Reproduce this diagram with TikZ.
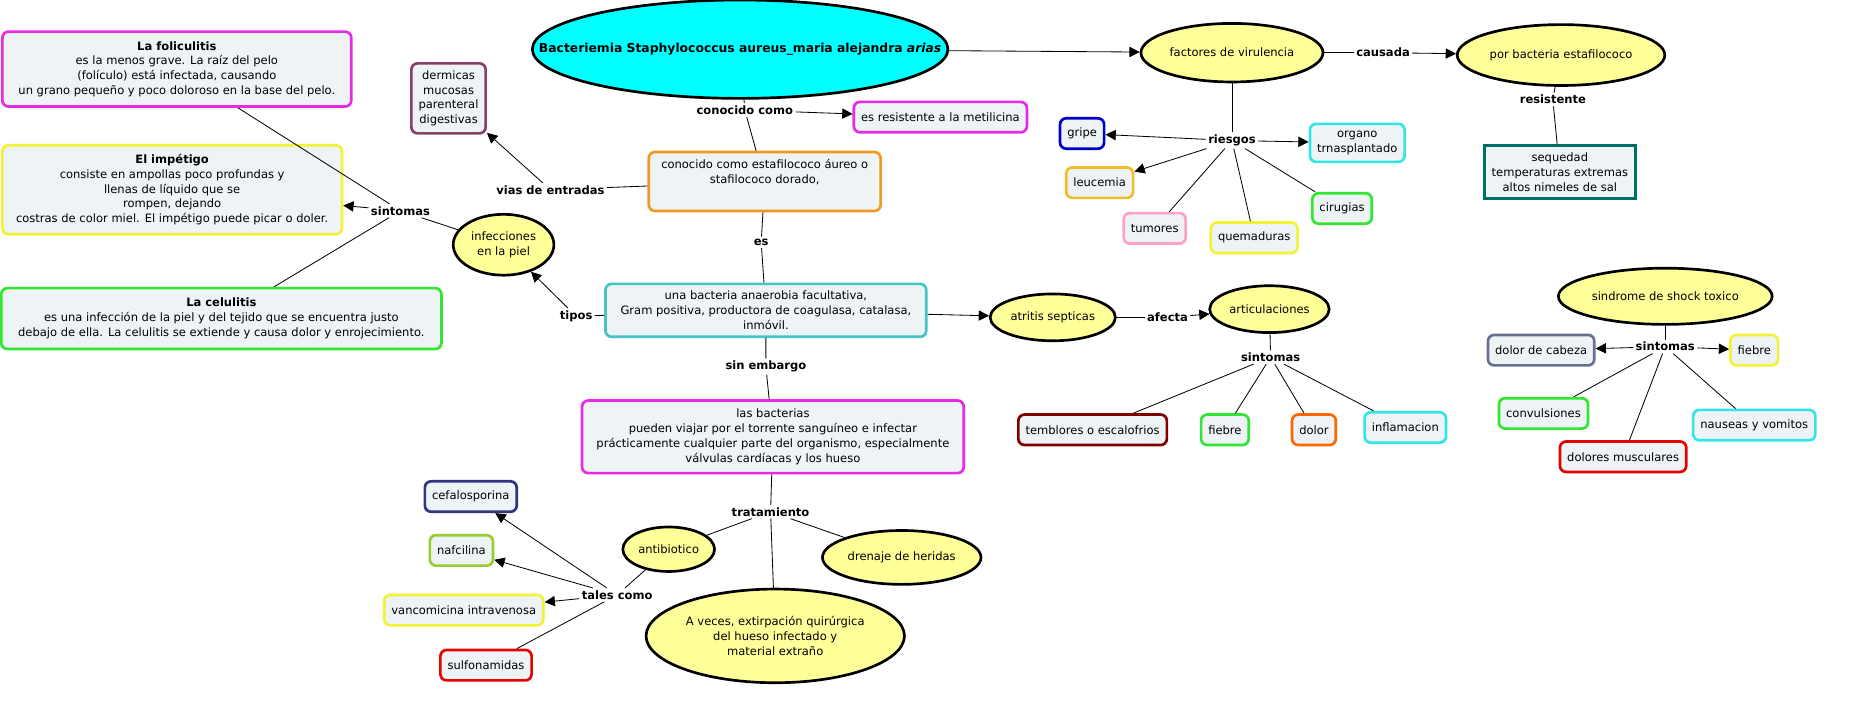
\documentclass[tikz,border=0pt]{standalone}
\usepackage{fontspec}
\setmainfont{DejaVu Sans}
\usetikzlibrary{shapes.geometric,arrows.meta}
\definecolor{amar}{HTML}{FFFF99}
\definecolor{fondo}{HTML}{EEF3F5}
\definecolor{celeste}{HTML}{00FFFF}
\definecolor{mag}{HTML}{E62AE6}
\definecolor{ama}{HTML}{F2F236}
\definecolor{ver}{HTML}{33E633}
\definecolor{cia}{HTML}{33E6E6}
\definecolor{nar}{HTML}{EE9922}
\newcommand\letra{\fontsize{5.6}{7.2}\selectfont}
\tikzstyle{elip}=[ellipse,draw,line width=1.3pt,fill=amar,align=center,inner sep=1pt]
\tikzstyle{caja}=[draw,rounded corners=3pt,line width=1.3pt,fill=fondo,align=center,inner sep=3.5pt,minimum height=0.52cm]
\tikzstyle{lbl}=[font=\letra\bfseries,fill=white,inner sep=1pt]
\tikzstyle{fl}=[-{Triangle[length=5pt,width=5pt]}]

\begin{document}
\begin{tikzpicture}[x=0.02cm,y=-0.02cm,font=\letra,line width=0.4pt]
\useasboundingbox (0,0) rectangle (1590,602);

% conceptos principales
\node[elip,fill=celeste,inner xsep=-1.6cm,minimum width=7.1cm,minimum height=1.68cm,font=\fontsize{6}{7.5}\selectfont\bfseries] (main) at (632,42) {Bacteriemia Staphylococcus aureus\_maria alejandra \textit{arias}};
\node[elip,minimum width=2.56cm,minimum height=1cm] (fact) at (1052,45) {factores de virulencia};
\node[elip,minimum width=2.84cm,minimum height=1.04cm] (porb) at (1333,47) {por bacteria estafilococo};
\node[caja,draw={rgb,255:red,0;green,112;blue,100},rounded corners=0pt] (seq) at (1332,147) {sequedad\\temperaturas extremas\\altos nimeles de sal};
\node[lbl] (causada) at (1181,45) {causada};
\node[lbl] (resist) at (1326,85) {resistente};

% riesgos
\node[lbl] (riesgos) at (1052,120) {riesgos};
\node[caja,draw={rgb,255:red,0;green,0;blue,204}] (gripe) at (924,114) {gripe};
\node[caja,draw=cia] (organo) at (1159,122) {organo\\trnasplantado};
\node[caja,draw={rgb,255:red,240;green,190;blue,40}] (leuc) at (939,156) {leucemia};
\node[caja,draw={rgb,255:red,255;green,160;blue,200}] (tumor) at (986,195) {tumores};
\node[caja,draw=ama] (quem) at (1071,203) {quemaduras};
\node[caja,draw=ver] (ciru) at (1146,178) {cirugias};

% rama central
\node[lbl] (conoc) at (636,94) {conocido como};
\node[caja,draw=mag] (metil) at (803,100) {es resistente a la metilicina};
\node[caja,draw=nar,minimum width=3.96cm,minimum height=1cm,text depth=0.35cm] (estaf) at (653,155) {conocido como estafilococo áureo o\\stafilococo dorado,};
\node[caja,draw={rgb,255:red,136;green,64;blue,102}] (derm) at (383,84) {dermicas\\mucosas\\parenteral\\digestivas};
\node[lbl] (vias) at (470,162) {vias de entradas};
\node[lbl] (es) at (650,207) {es};
\node[caja,draw={rgb,255:red,68;green,196;blue,196},minimum width=5.48cm] (bact) at (654,265) {una bacteria anaerobia facultativa,\\Gram positiva, productora de coagulasa, catalasa,\\inmóvil.};
\node[lbl] (tipos) at (492,270) {tipos};

% infecciones de la piel
\node[elip,minimum width=1.72cm,minimum height=1.04cm] (infec) at (430,209) {infecciones\\en la piel};
\node[lbl] (sint1) at (342,180) {sintomas};
\node[caja,draw=mag,minimum width=5.96cm,minimum height=1.28cm] (folic) at (151,59) {\textbf{La foliculitis}\\es la menos grave. La raíz del pelo\\(folículo) está infectada, causando\\un grano pequeño y poco doloroso en la base del pelo.};
\node[caja,draw=ama,minimum width=5.8cm,minimum height=1.52cm] (impet) at (147,162) {\textbf{El impétigo}\\consiste en ampollas poco profundas y\\llenas de líquido que se\\rompen, dejando\\costras de color miel. El impétigo puede picar o doler.};
\node[caja,draw=ver,minimum width=7.52cm,minimum height=1.04cm] (celul) at (189,272) {\textbf{La celulitis}\\es una infección de la piel y del tejido que se encuentra justo\\debajo de ella. La celulitis se extiende y causa dolor y enrojecimiento.};

% atritis septicas
\node[elip,minimum width=1.84cm,minimum height=0.8cm] (atri) at (899,271) {atritis septicas};
\node[lbl] (afecta) at (997,271) {afecta};
\node[elip,minimum width=1.8cm,minimum height=0.8cm] (artic) at (1084,264) {articulaciones};
\node[lbl] (sint2) at (1085,305) {sintomas};
\node[caja,draw={rgb,255:red,128;green,0;blue,0}] (temb) at (933,367) {temblores o escalofrios};
\node[caja,draw=ver] (fieb1) at (1046,367) {fiebre};
\node[caja,draw={rgb,255:red,255;green,102;blue,0}] (dolor) at (1122,367) {dolor};
\node[caja,draw=cia] (infla) at (1200,365) {inflamacion};

% tratamiento
\node[lbl] (sinemb) at (654,313) {sin embargo};
\node[caja,draw=mag,minimum width=6.52cm,minimum height=1.24cm] (lasb) at (660,373) {las bacterias\\pueden viajar por el torrente sanguíneo e infectar\\prácticamente cualquier parte del organismo, especialmente\\válvulas cardíacas y los hueso};
\node[lbl] (trat) at (658,437) {tratamiento};
\node[elip,minimum width=1.44cm,minimum height=0.76cm] (antib) at (571,469) {antibiotico};
\node[elip,minimum width=2.24cm,minimum height=0.92cm] (dren) at (770,476) {drenaje de heridas};
\node[elip,minimum width=3.68cm,minimum height=1.6cm] (aveces) at (662,543) {A veces, extirpación quirúrgica\\del hueso infectado y\\material extraño};
\node[lbl] (tales) at (527,508) {tales como};
\node[caja,draw={rgb,255:red,51;green,51;blue,128}] (cefa) at (402,424) {cefalosporina};
\node[caja,draw={rgb,255:red,153;green,204;blue,51}] (nafc) at (394,470) {nafcilina};
\node[caja,draw=ama] (vanc) at (396,521) {vancomicina intravenosa};
\node[caja,draw={rgb,255:red,230;green,0;blue,0}] (sulf) at (415,568) {sulfonamidas};

% sindrome de shock
\node[elip,minimum width=2.92cm,minimum height=0.96cm] (shock) at (1422,253) {sindrome de shock toxico};
\node[lbl] (sint3) at (1422,296) {sintomas};
\node[caja,draw={rgb,255:red,102;green,112;blue,144}] (cabeza) at (1316,299) {dolor de cabeza};
\node[caja,draw=ama] (fieb2) at (1498,299) {fiebre};
\node[caja,draw=ver] (conv) at (1318,353) {convulsiones};
\node[caja,draw=cia] (naus) at (1498,363) {nauseas y vomitos};
\node[caja,draw={rgb,255:red,230;green,0;blue,0}] (dmusc) at (1386,390) {dolores musculares};

% conectores
\draw[fl] (main) -- (fact);
\draw (fact) -- (causada);
\draw[fl] (causada) -- (porb);
\draw (porb) -- (resist) -- (seq);
\draw (fact) -- (riesgos);
\draw[fl] (riesgos) -- (gripe);
\draw[fl] (riesgos) -- (organo);
\draw[fl] (riesgos) -- (leuc);
\draw (riesgos) -- (tumor);
\draw (riesgos) -- (quem);
\draw (riesgos) -- (ciru);
\draw (main) -- (conoc) -- (estaf);
\draw[fl] (conoc) -- (metil);
\draw (estaf) -- (vias);
\draw[fl] (vias) -- (derm);
\draw (estaf) -- (es) -- (bact);
\draw (bact) -- (tipos);
\draw[fl] (tipos) -- (infec);
\draw (infec) -- (sint1);
\draw (sint1) -- (folic);
\draw[fl] (sint1) -- (impet);
\draw (sint1) -- (celul);
\draw[fl] (bact) -- (atri);
\draw (atri) -- (afecta);
\draw[fl] (afecta) -- (artic);
\draw (artic) -- (sint2);
\foreach \n in {temb,fieb1,dolor,infla} \draw (sint2) -- (\n);
\draw (bact) -- (sinemb) -- (lasb);
\draw (lasb) -- (trat);
\foreach \n in {antib,dren,aveces} \draw (trat) -- (\n);
\draw (antib) -- (tales);
\draw[fl] (tales) -- (cefa);
\draw[fl] (tales) -- (nafc);
\draw[fl] (tales) -- (vanc);
\draw (tales) -- (sulf);
\draw (shock) -- (sint3);
\draw[fl] (sint3) -- (cabeza);
\draw[fl] (sint3) -- (fieb2);
\foreach \n in {conv,naus,dmusc} \draw (sint3) -- (\n);
\end{tikzpicture}
\end{document}
